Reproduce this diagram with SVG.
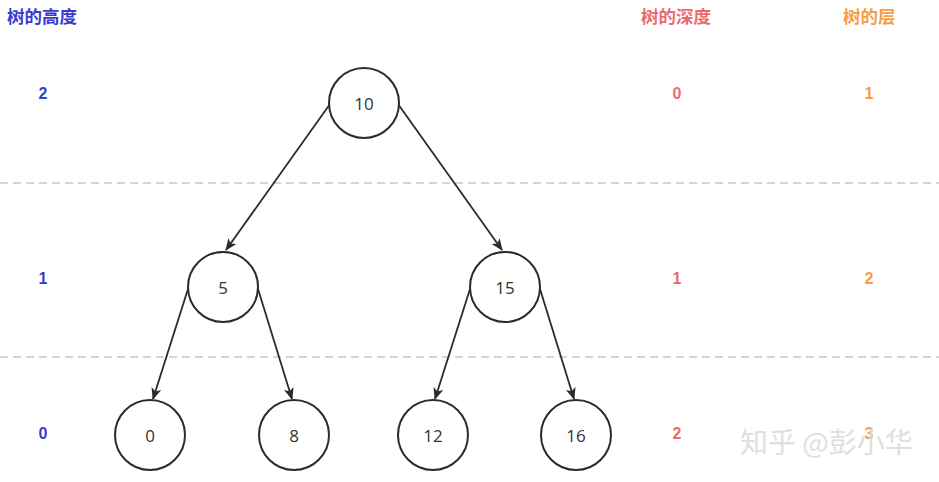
<svg xmlns="http://www.w3.org/2000/svg" width="939" height="482" viewBox="0 0 939 482">
<style>
.node circle{fill:#fff;stroke:#2b2b2b;stroke-width:2}
.node text{font-family:"Segoe UI","Open Sans","Liberation Sans",sans-serif;font-size:17px;fill:#333;text-anchor:middle;dominant-baseline:central}
.edge{stroke:#2b2b2b;stroke-width:1.8;fill:none;marker-end:url(#arr)}
.dash{stroke:#c8c8c8;stroke-width:1.5;stroke-dasharray:8 5}
.hdr{font-family:"Liberation Sans","Noto Sans CJK SC",sans-serif;font-size:17.5px;font-weight:bold}
.num{font-family:"Liberation Sans","Noto Sans CJK SC",sans-serif;font-size:16px;font-weight:bold;text-anchor:middle;dominant-baseline:central}
.blue{fill:#3a3acf}
.red{fill:#ea6b6b}
.orange{fill:#f2a043}
</style>
<defs>
<marker id="arr" viewBox="0 0 12 10" refX="11" refY="5" markerWidth="12" markerHeight="10" markerUnits="userSpaceOnUse" orient="auto">
<path d="M0,0 L12,5 L0,10 L3,5 z" fill="#2b2b2b"/>
</marker>
</defs>
<rect width="939" height="482" fill="#fff"/>
<g id="guides">
<line class="dash" x1="0" y1="183" x2="939" y2="183"/>
<line class="dash" x1="0" y1="357" x2="939" y2="357"/>
</g>
<g id="connectors">
<path class="edge" d="M330,104 L226,250"/>
<path class="edge" d="M398,104 L502,250"/>
<path class="edge" d="M188,289 L153,399"/>
<path class="edge" d="M258,289 L292,399"/>
<path class="edge" d="M470,289 L435,399"/>
<path class="edge" d="M540,289 L574,399"/>
</g>
<g id="n10" class="node"><circle cx="364" cy="103" r="35"/><text x="364" y="103">10</text></g>
<g id="n5" class="node"><circle cx="223" cy="287" r="35"/><text x="223" y="287">5</text></g>
<g id="n15" class="node"><circle cx="505" cy="287" r="35"/><text x="505" y="287">15</text></g>
<g id="n0" class="node"><circle cx="150" cy="435" r="35"/><text x="150" y="435">0</text></g>
<g id="n8" class="node"><circle cx="294" cy="435" r="35"/><text x="294" y="435">8</text></g>
<g id="n12" class="node"><circle cx="433" cy="435" r="35"/><text x="433" y="435">12</text></g>
<g id="n16" class="node"><circle cx="576" cy="435" r="35"/><text x="576" y="435">16</text></g>
<g id="height">
<text class="hdr blue" x="7" y="23">树的高度</text>
<text class="num blue" x="43" y="93">2</text>
<text class="num blue" x="43" y="278">1</text>
<text class="num blue" x="43" y="433">0</text>
</g>
<g id="depth">
<text class="hdr red" x="641" y="23">树的深度</text>
<text class="num red" x="677" y="93">0</text>
<text class="num red" x="677" y="278">1</text>
<text class="num red" x="677" y="433">2</text>
</g>
<g id="level">
<text class="hdr orange" x="843" y="23">树的层</text>
<text class="num orange" x="869" y="93">1</text>
<text class="num orange" x="869" y="278">2</text>
<text class="num orange" x="869" y="433">3</text>
</g>
<g id="watermark">
<text x="740" y="453" font-family="'Noto Sans CJK SC',sans-serif" font-size="28" fill="#dcdcdc" opacity="0.9">知乎 @彭小华</text>
</g>
</svg>
